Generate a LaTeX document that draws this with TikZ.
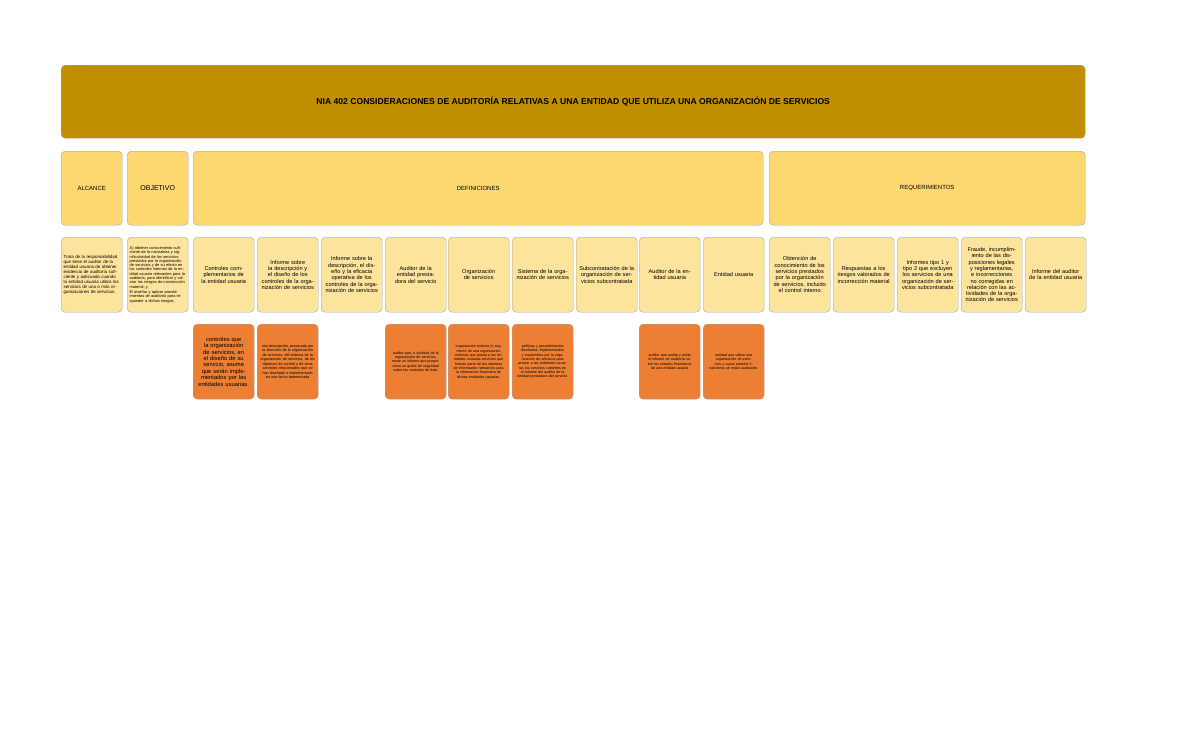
\documentclass[tikz,border=0pt]{standalone}
\usepackage{fontspec}
\setmainfont{Liberation Sans}
\begin{document}
\begin{tikzpicture}[x=1pt,y=-1pt,
  base/.style={draw=black!35,rounded corners=4pt,anchor=north west,align=center,inner sep=1.5pt},
  head/.style={base,fill=hdr,minimum height=74pt,font=\fontsize{6}{7}\selectfont},
  item/.style={base,fill=itm,minimum width=61pt,text width=56pt,minimum height=75pt,font=\fontsize{5.6}{6.3}\selectfont},
  orng/.style={base,fill=org,minimum width=61pt,text width=55pt,minimum height=75pt,font=\fontsize{3.6}{4.3}\selectfont},
  leftitem/.style={item,align=left,font=\fontsize{4.4}{5}\selectfont}]
\definecolor{gold}{HTML}{C08F00}
\definecolor{hdr}{HTML}{FDD770}
\definecolor{itm}{HTML}{FDE39B}
\definecolor{org}{HTML}{EC7F33}
\useasboundingbox (0,0) rectangle (1200,729);
\fill[white] (0,0) rectangle (1200,729);
\node[base,fill=gold,minimum width=1024pt,minimum height=73pt,font=\bfseries\fontsize{8.6}{10}\selectfont] (title) at (61,65) {NIA 402 CONSIDERACIONES DE AUDITORÍA RELATIVAS A UNA ENTIDAD QUE UTILIZA UNA ORGANIZACIÓN DE SERVICIOS};
\node[head,minimum width=61pt] (alc) at (61,151) {ALCANCE};
\node[head,minimum width=61pt,font=\fontsize{7}{8}\selectfont] (obj) at (127,151) {OBJETIVO};
\node[head,minimum width=570pt] (def) at (193,151) {DEFINICIONES};
\node[head,minimum width=316pt] (req) at (769,151) {REQUERIMIENTOS};
\node[leftitem] (a1) at (61,237) {Trata de la responsabilidad que tiene el auditor de la entidad usuaria de obtener evidencia de auditoría suficiente y adecuada cuando la entidad usuaria utiliza los servicios de una o más organizaciones de servicios.};
\node[leftitem,font=\fontsize{3.9}{4.3}\selectfont] (o1) at (127,237) {A) obtener conocimiento suficiente de la naturaleza y significatividad de los servicios prestados por la organización de servicios y de su efecto en los controles internos de la entidad usuaria relevantes para la auditoría, para identificar y valorar los riesgos de incorrección material; y\\[1pt]El diseñar y aplicar procedimientos de auditoría para responder a dichos riesgos.};
\node[item] (d1) at (193,237) {Controles complementarios de la entidad usuaria};
\node[item] (d2) at (257,237) {Informe sobre la descripción y el diseño de los controles de la organización de servicios};
\node[item] (d3) at (321,237) {Informe sobre la descripción, el diseño y la eficacia operativa de los controles de la organización de servicios};
\node[item] (d4) at (385,237) {Auditor de la entidad prestadora del servicio};
\node[item] (d5) at (448,237) {Organización de servicios};
\node[item] (d6) at (512,237) {Sistema de la organización de servicios};
\node[item] (d7) at (576,237) {Subcontratación de la organización de servicios subcontratada};
\node[item] (d8) at (639,237) {Auditor de la entidad usuaria};
\node[item] (d9) at (703,237) {Entidad usuaria};
\node[item] (r1) at (769,237) {Obtención de conocimiento de los servicios prestados por la organización de servicios, incluido el control interno};
\node[item] (r2) at (833,237) {Respuestas a los riesgos valorados de incorrección material};
\node[item] (r3) at (897,237) {Informes tipo 1 y tipo 2 que excluyen los servicios de una organización de servicios subcontratada};
\node[item] (r4) at (961,237) {Fraude, incumplimiento de las disposiciones legales y reglamentarias, e incorrecciones no corregidas en relación con las actividades de la organización de servicios};
\node[item] (r5) at (1025,237) {Informe del auditor de la entidad usuaria};
\node[orng,font=\fontsize{5.8}{6.4}\selectfont] (e1) at (193,324) {controles que la organización de servicios, en el diseño de su servicio, asume que serán implementados por las entidades usuarias.};
\node[orng,font=\fontsize{3.7}{4.5}\selectfont] (e2) at (257,324) {una descripción, preparada por la dirección de la organización de servicios, del sistema de la organización de servicios, de los objetivos de control y de otros controles relacionados que se han diseñado e implementado en una fecha determinada};
\node[orng] (e4) at (385,324) {auditor que, a solicitud de la organización de servicios, emite un informe que proporciona un grado de seguridad sobre los controles de ésta.};
\node[orng] (e5) at (448,324) {organización externa (o segmento de una organización externa) que presta a las entidades usuarias servicios que forman parte de los sistemas de información relevantes para la información financiera de dichas entidades usuarias.};
\node[orng] (e6) at (512,324) {políticas y procedimientos diseñados, implementados y mantenidos por la organización de servicios para prestar a las entidades usuarias los servicios cubiertos en el informe del auditor de la entidad prestadora del servicio.};
\node[orng] (e8) at (639,324) {auditor que audita y emite el informe de auditoría sobre los estados financieros de una entidad usuaria};
\node[orng] (e9) at (703,324) {entidad que utiliza una organización de servicios y cuyos estados financieros se están auditando.};
\end{tikzpicture}
\end{document}
